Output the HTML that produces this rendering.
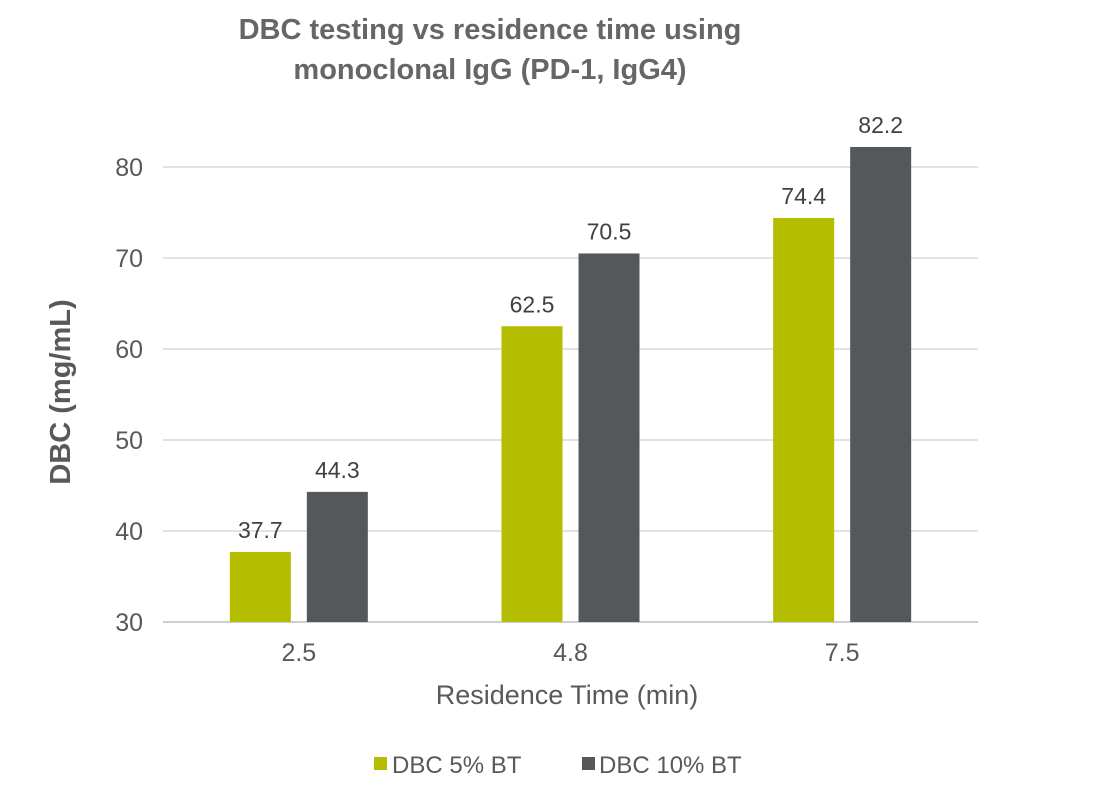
<!DOCTYPE html>
<html><head><meta charset="utf-8"><style>
body{margin:0;background:#fff;}
svg{display:block;font-family:"Liberation Sans",Arial,sans-serif;}
</style></head><body>
<svg id="chart" width="1096" height="790" viewBox="0 0 1096 790">
<text x="490" y="39" text-anchor="middle" font-size="29" font-weight="bold" fill="#666">DBC testing vs residence time using</text>
<text x="490" y="79" text-anchor="middle" font-size="29" font-weight="bold" fill="#666">monoclonal IgG (PD-1, IgG4)</text>
<g id="grid"></g><g id="bars"></g><g id="labels"></g>
<text transform="translate(70,392) rotate(-90)" text-anchor="middle" font-size="29" font-weight="bold" fill="#595959">DBC (mg/mL)</text>
<text x="567" y="704" text-anchor="middle" font-size="27" fill="#595959">Residence Time (min)</text>
<g>
<rect x="374" y="757" width="13" height="13" fill="#b5bd00"/>
<text x="392" y="773" font-size="24" fill="#595959">DBC 5% BT</text>
<rect x="582" y="757" width="13" height="13" fill="#54585a"/>
<text x="599" y="773" font-size="24" fill="#595959">DBC 10% BT</text>
</g>
</svg>
<script>
const categories=["2.5","4.8","7.5"];
const dbc5=[37.7,62.5,74.4];
const dbc10=[44.3,70.5,82.2];
const yTicks=[30,40,50,60,70,80];
const NS="http://www.w3.org/2000/svg";
const x0=163,x1=978,yBase=622,yTop=167,vMin=30,vMax=80;
const y=v=>yBase-(v-vMin)/(vMax-vMin)*(yBase-yTop);
const bw=(x1-x0)/categories.length;
const cx=i=>x0+bw*(i+0.5);
function mk(tag,attrs,parent){const e=document.createElementNS(NS,tag);for(const k in attrs)e.setAttribute(k,attrs[k]);document.getElementById(parent).appendChild(e);return e;}
yTicks.forEach(t=>{
  const l=mk('line',{x1:x0,x2:x1,y1:y(t),y2:y(t),stroke:t===vMin?'#bfbfbf':'#d9d9d9','stroke-width':1.5},'grid');
  
  
  const tx=mk('text',{x:143,y:y(t)+9,'text-anchor':'end','font-size':25,fill:'#595959'},'labels');
  tx.textContent=t;
  
  
});
categories.forEach((c,i)=>{
  const tx=mk('text',{x:cx(i),y:661,'text-anchor':'middle','font-size':25,fill:'#595959'},'labels');
  tx.textContent=c;
  
  
  [[dbc5,'#b5bd00',-69,'5pct'],[dbc10,'#54585a',8,'10pct']].forEach(([arr,col,off,nm])=>{
    const v=arr[i];
    const r=mk('rect',{x:cx(i)+off,y:y(v),width:61,height:yBase-y(v),fill:col},'bars');
    
    
    const lb=mk('text',{x:cx(i)+off+30.5,y:y(v)-14,'text-anchor':'middle','font-size':23,fill:'#404040'},'labels');
    lb.textContent=v.toFixed(1);
    
    
  });
});
</script>
</body></html>
